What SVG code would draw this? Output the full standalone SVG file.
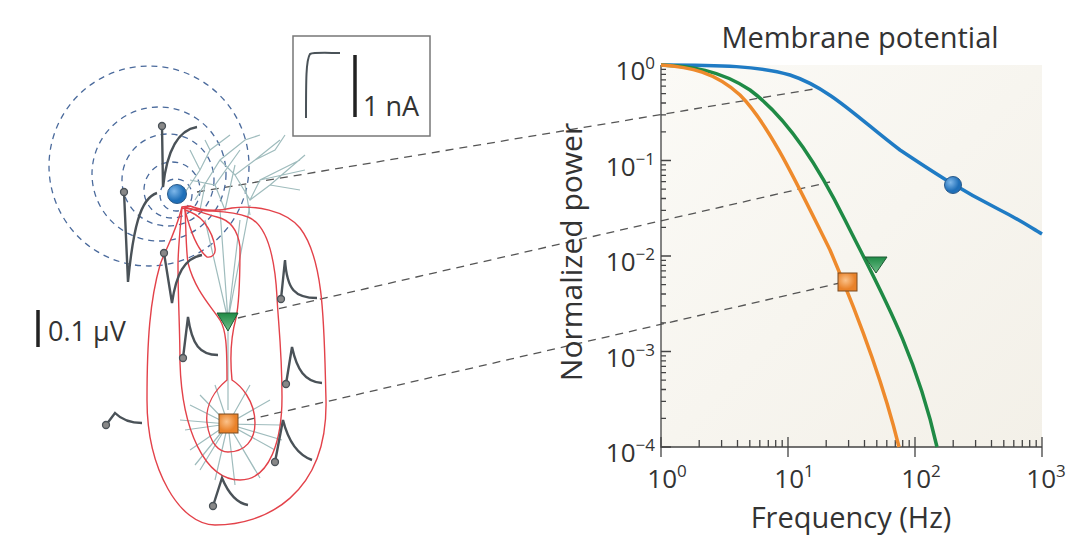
<svg xmlns="http://www.w3.org/2000/svg" width="1078" height="537" viewBox="0 0 1078 537">
<style>
text{font-family:"Open Sans","Liberation Sans",sans-serif;fill:#333}
.dash{fill:none;stroke:#555;stroke-width:1.3;stroke-dasharray:8 6}
.fc{fill:none;stroke:#4a6a9c;stroke-width:1.3;stroke-dasharray:6 5}
.red{fill:none;stroke:#e3424a;stroke-width:1.4}
.tr{fill:none;stroke:#4a5258;stroke-width:2.4}
.dot{fill:#888;stroke:#4a5258;stroke-width:1.3}
.den{fill:none;stroke:#9fbcbd;stroke-width:1.2}
.tick{stroke:#444;stroke-width:1.3;fill:none}
.tl{font-size:27px}
</style>
<defs>
<linearGradient id="bg" x1="0" y1="0" x2="1" y2="1"><stop offset="0" stop-color="#fbfaf6"/><stop offset="1" stop-color="#f3f0e8"/></linearGradient>
<radialGradient id="gb" cx="0.35" cy="0.35"><stop offset="0" stop-color="#7fb8ea"/><stop offset="1" stop-color="#1f6fb8"/></radialGradient>
<radialGradient id="go" cx="0.4" cy="0.4"><stop offset="0" stop-color="#fbc28a"/><stop offset="1" stop-color="#e9822a"/></radialGradient>
<linearGradient id="gg" x1="0" y1="0" x2="0" y2="1"><stop offset="0" stop-color="#1f8a45"/><stop offset="1" stop-color="#6fbf8a"/></linearGradient>
</defs>
<rect width="1078" height="537" fill="#fff"/>
<g id="plot-bg"><rect x="661" y="65" width="381" height="382" fill="url(#bg)"/></g>
<g id="connectors">
<path class="dash" d="M197,192 L820,88"/>
<path class="dash" d="M238,318 L830,182"/>
<path class="dash" d="M247,420 L840,283"/>
</g>
<g id="field">
<circle class="fc" cx="149" cy="166" r="100"/>
<circle class="fc" cx="159" cy="174" r="67"/>
<circle class="fc" cx="168" cy="180" r="46"/>
<circle class="fc" cx="172" cy="190" r="28"/>
<circle class="fc" cx="176" cy="195" r="16"/>
</g>
<g id="dendrites">
<path class="den" d="M180,200 L200,170 L210,150 M200,170 L190,150 M210,150 L230,135 M210,150 L205,140 M195,200 L220,160 L245,140 L260,135 M220,160 L235,175 L255,160 L280,140 M255,160 L275,150 L285,135 M235,175 L250,200 L260,180 L300,160 M250,200 L270,185 L305,155 M260,180 L305,170 M270,185 L300,190 M190,180 L215,185 L240,150 M215,185 L225,210 L235,165 M250,215 L245,185 M200,210 L205,185"/>
<path class="den" d="M228,320 L205,220 M228,320 L220,210 M228,320 L240,220 M228,320 L250,205 M228,325 L228,410"/>
<path class="den" d="M228,424 L190,405 M228,424 L185,430 M228,424 L190,450 M228,424 L200,470 M228,424 L215,480 M228,424 L235,485 M228,424 L255,470 M228,424 L275,450 M228,424 L280,425 M228,424 L270,400 M228,424 L250,385 M228,424 L215,385 M228,424 L200,395 M228,424 L180,420 M228,424 L195,465 M228,424 L260,478 M228,424 L282,440"/>
</g>
<g id="isopotentials">
<path class="red" d="M182,207 C175,235 165,250 160,265 C150,300 147,340 147,400 C147,470 180,525 215,525 C265,525 328,495 326,400 C324,330 325,260 300,228 C285,210 255,205 232,208 C215,212 200,210 190,206 Z"/>
<path class="red" d="M182,208 C180,230 178,250 178,265 C178,300 180,330 180,363 C182,430 205,480 240,480 C270,480 282,440 282,397 C282,350 278,320 277,297 C275,260 268,225 248,217 C230,210 210,212 200,210 Z"/>
<path class="red" d="M185,207 C186,230 186,250 188,263 C195,290 210,305 220,320 C226,330 227,345 227,380 C215,390 205,405 207,423 C210,445 220,452 228,452 C245,452 255,440 255,423 C255,400 240,385 232,380 C230,360 230,340 236,318 C240,300 240,270 240,247 C238,230 230,220 217,217 C205,214 195,210 185,207 Z"/>
<path class="red" d="M185,210 C190,230 198,250 207,257 C212,258 216,254 215,248 C214,238 210,230 204,222 C198,215 192,212 185,210 Z"/>
</g>
<g id="traces">
<path class="tr" d="M162,126 L163,187 C167,150 178,130 197,127"/><circle class="dot" cx="162" cy="126" r="3.5"/>
<path class="tr" d="M124,192 L128,282 C133,230 140,198 157,193"/><circle class="dot" cx="124" cy="192" r="3.5"/>
<path class="tr" d="M164,253 L172,303 C176,275 184,258 202,255"/><circle class="dot" cx="164" cy="253" r="3.5"/>
<path class="tr" d="M281,299 L285,260 C287,290 295,298 317,298"/><circle class="dot" cx="281" cy="299" r="3.5"/>
<path class="tr" d="M183,358 L188,317 C192,345 200,355 218,355"/><circle class="dot" cx="183" cy="358" r="3.5"/>
<path class="tr" d="M286,384 L292,347 C297,370 305,382 322,383"/><circle class="dot" cx="286" cy="384" r="3.5"/>
<path class="tr" d="M106,425 L115,413 C122,420 130,423 142,423"/><circle class="dot" cx="106" cy="425" r="3.5"/>
<path class="tr" d="M275,462 L283,420 C288,440 298,455 312,460"/><circle class="dot" cx="275" cy="462" r="3.5"/>
<path class="tr" d="M213,506 L222,478 C227,490 235,503 248,505"/><circle class="dot" cx="213" cy="506" r="3.5"/>
</g>
<g id="markers-left">
<circle cx="177" cy="194" r="9.5" fill="url(#gb)" stroke="#2a5a8a" stroke-width="1"/>
<path d="M217,313 L238,313 L228,331 Z" fill="url(#gg)" stroke="#1e5a34" stroke-width="1"/>
<rect x="219" y="414" width="19" height="19" fill="url(#go)" stroke="#7a4a20" stroke-width="1"/>
</g>
<g id="scale-current">
<rect x="293" y="36" width="137" height="100" fill="#fff" stroke="#777" stroke-width="1.5"/>
<path d="M306,118 C306,80 306,60 310,54 C314,52 330,53 340,53" fill="none" stroke="#4a5258" stroke-width="2"/>
<path d="M355,55 L355,117" stroke="#222" stroke-width="3.5"/>
<text x="363" y="116" class="tl">1 nA</text>
</g>
<g id="scale-voltage">
<path d="M38,310 L38,347" stroke="#222" stroke-width="3.5"/>
<text x="48" y="341" class="tl">0.1 μV</text>
</g>
<g id="axes">
<path class="tick" d="M661,65 L661,447 L1042,447"/>
<path class="tick" d="M661,65 h10 M661,160.5 h10 M661,256 h10 M661,351.5 h10 M661,447 h10"/>
<path class="tick" d="M661,131.8h5M661,114.9h5M661,103h5M661,93.7h5M661,86.2h5M661,79.8h5M661,74.3h5M661,69.4h5M661,227.3h5M661,210.4h5M661,198.5h5M661,189.2h5M661,181.7h5M661,175.3h5M661,169.8h5M661,164.9h5M661,322.8h5M661,305.9h5M661,294h5M661,284.7h5M661,277.2h5M661,270.8h5M661,265.3h5M661,260.4h5M661,418.3h5M661,401.4h5M661,389.5h5M661,380.2h5M661,372.7h5M661,366.3h5M661,360.8h5M661,355.9h5"/>
<path class="tick" d="M661,437v20M788,437v20M915,437v20M1042,437v20"/>
<path class="tick" d="M699.2,447v-7M721.6,447v-7M737.5,447v-7M749.8,447v-7M759.8,447v-7M768.3,447v-7M775.7,447v-7M782.2,447v-7M826.2,447v-7M848.6,447v-7M864.5,447v-7M876.8,447v-7M886.8,447v-7M895.3,447v-7M902.7,447v-7M909.2,447v-7M953.2,447v-7M975.6,447v-7M991.5,447v-7M1003.8,447v-7M1013.8,447v-7M1022.3,447v-7M1029.7,447v-7M1036.2,447v-7"/>
<g font-size="26" text-anchor="end">
<text x="655" y="80">10<tspan font-size="17" dy="-11">0</tspan></text>
<text x="655" y="176">10<tspan font-size="17" dy="-11">−1</tspan></text>
<text x="655" y="271">10<tspan font-size="17" dy="-11">−2</tspan></text>
<text x="655" y="367">10<tspan font-size="17" dy="-11">−3</tspan></text>
<text x="655" y="462">10<tspan font-size="17" dy="-11">−4</tspan></text>
</g>
<g font-size="26" text-anchor="middle">
<text x="667" y="488">10<tspan font-size="17" dy="-11">0</tspan></text>
<text x="794" y="488">10<tspan font-size="17" dy="-11">1</tspan></text>
<text x="921" y="488">10<tspan font-size="17" dy="-11">2</tspan></text>
<text x="1046" y="488">10<tspan font-size="17" dy="-11">3</tspan></text>
</g>
<text x="851" y="528" font-size="29" text-anchor="middle">Frequency (Hz)</text>
<text transform="translate(582,252) rotate(-90)" font-size="30" text-anchor="middle">Normalized power</text>
<text x="860" y="48" font-size="29" text-anchor="middle">Membrane potential</text>
</g>
<g id="curves">
<path d="M661,65 C720,65 760,66 790,75 C830,88 860,120 900,150 C930,170 960,190 1000,210 C1020,220 1030,227 1042,234" fill="none" stroke="#1f7bc4" stroke-width="3.5"/>
<path d="M661,65 C690,66 720,70 750,90 C790,120 820,170 845,220 C880,290 915,350 937,447" fill="none" stroke="#1f8a45" stroke-width="3.5"/>
<path d="M661,65 C690,67 715,72 740,95 C770,125 800,190 830,250 C860,320 885,390 899,447" fill="none" stroke="#ee8a2c" stroke-width="3.5"/>
</g>
<g id="markers-plot">
<circle cx="953" cy="185" r="8.5" fill="url(#gb)" stroke="#2a5a8a" stroke-width="1"/>
<path d="M865,257 L887,257 L876,273 Z" fill="url(#gg)" stroke="#1e5a34" stroke-width="1"/>
<rect x="838" y="273" width="19" height="18" fill="url(#go)" stroke="#7a4a20" stroke-width="1"/>
</g>
</svg>
